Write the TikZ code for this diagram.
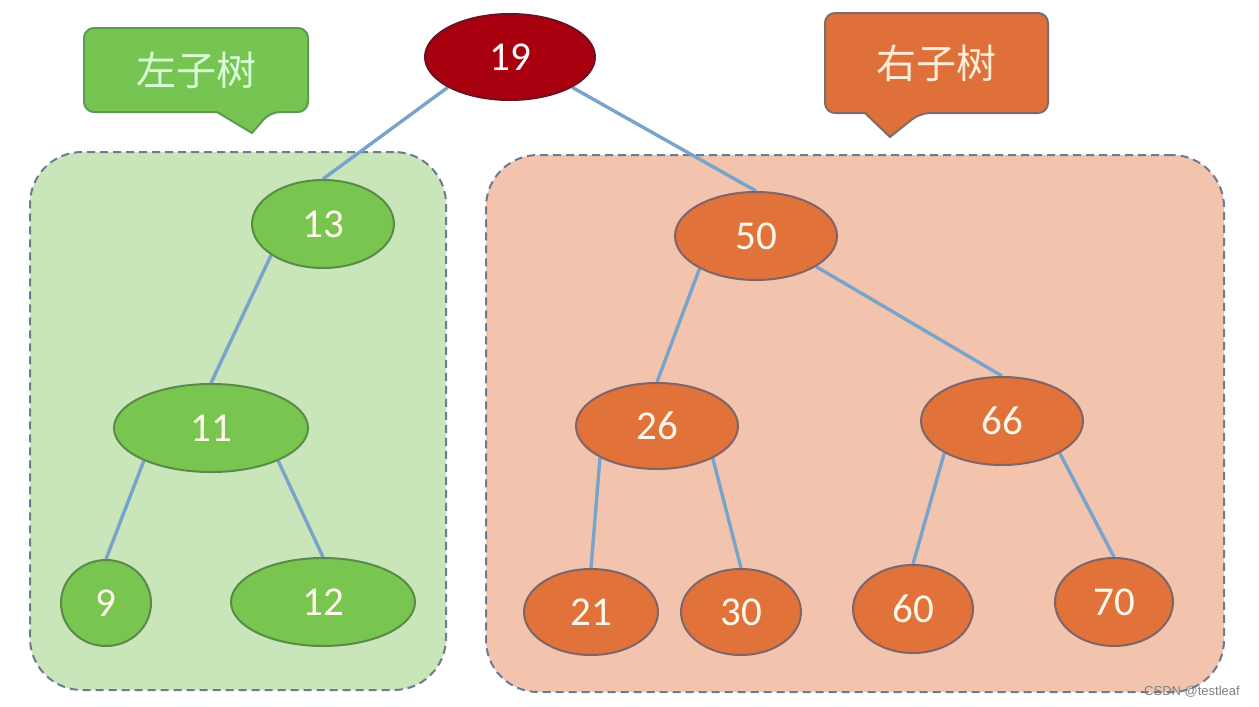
\documentclass[tikz,border=0pt]{standalone}
\usepackage{fontspec}
\setmainfont{Carlito}
\newfontfamily\cjkfont{Noto Sans CJK SC}
\newfontfamily\wmfont{Liberation Sans}
\usetikzlibrary{shapes.geometric}
\definecolor{edgeblue}{HTML}{78A4CC}
\definecolor{gfill}{HTML}{78C650}
\definecolor{gborder}{HTML}{5A8A48}
\definecolor{ofill}{HTML}{E0723A}
\definecolor{oborder}{HTML}{80646A}
\definecolor{rfill}{HTML}{A8000F}
\definecolor{rborder}{HTML}{6E1020}
\definecolor{lboxfill}{HTML}{C8E6B9}
\definecolor{rboxfill}{HTML}{F2C4AE}
\definecolor{dashcol}{HTML}{6C7B90}
\definecolor{callgfill}{HTML}{76C552}
\definecolor{callgborder}{HTML}{5C9A55}
\definecolor{callofill}{HTML}{E0703A}
\definecolor{calloborder}{HTML}{7E6C6A}
\definecolor{nodetext}{HTML}{FFF8EC}
\pgfdeclarelayer{boxes}
\pgfdeclarelayer{edges}
\pgfsetlayers{boxes,edges,main}
\tikzset{
  treenode/.style={ellipse, inner sep=0pt, line width=2pt, text=nodetext,
    font=\fontsize{41}{46}\selectfont},
  gnode/.style={treenode, fill=gfill, draw=gborder},
  onode/.style={treenode, fill=ofill, draw=oborder},
  rnode/.style={treenode, fill=rfill, draw=rborder, text=white!90!pink},
  subtree/.style={rectangle, rounded corners=52pt, dash pattern=on 8pt off 5pt,
    line width=2pt, draw=dashcol, inner sep=0pt},
  link/.style={draw=edgeblue, line width=3.4pt},
  calltext/.style={font=\cjkfont\fontsize{40}{46}\selectfont, inner sep=0pt},
}
\begin{document}
\begin{tikzpicture}[x=1pt,y=-1pt]
\useasboundingbox (0,0) rectangle (1259,707);
\begin{pgfonlayer}{boxes}
  \fill[white] (0,0) rectangle (1259,707);
  \node[subtree, fill=lboxfill, minimum width=416pt, minimum height=538pt] (lbox) at (238,421) {};
  \node[subtree, fill=rboxfill, minimum width=738pt, minimum height=537pt] (rbox) at (855,423.5) {};
  % callouts
  \draw[fill=callgfill, draw=callgborder, line width=2pt, rounded corners=10pt]
    (84,28) -- (308,28) -- (308,112) -- (270,112) [sharp corners] -- (252,133) -- (217,112)
    [rounded corners=10pt] -- (84,112) -- cycle;
  \draw[fill=callofill, draw=calloborder, line width=2pt, rounded corners=10pt]
    (825,13) -- (1048,13) -- (1048,113) -- (920,113) [sharp corners] -- (890,137) -- (865,113)
    [rounded corners=10pt] -- (825,113) -- cycle;
\end{pgfonlayer}
\node[calltext, text=white!85!green] (lcall) at (196,70) {左子树};
\node[calltext, text=white!85!orange] (rcall) at (936,63) {右子树};

\node[rnode, minimum width=170pt, minimum height=86pt] (n19) at (510,57) {19};
\node[gnode, minimum width=142pt, minimum height=88pt] (n13) at (323,224) {13};
\node[gnode, minimum width=194pt, minimum height=88pt] (n11) at (211,428) {11};
\node[gnode, minimum width=90pt, minimum height=86pt] (n9) at (106,603) {9};
\node[gnode, minimum width=184pt, minimum height=88pt] (n12) at (323,602) {12};
\node[onode, minimum width=162pt, minimum height=88pt] (n50) at (756,236) {50};
\node[onode, minimum width=162pt, minimum height=86pt] (n26) at (657,426) {26};
\node[onode, minimum width=162pt, minimum height=88pt] (n66) at (1002,421) {66};
\node[onode, minimum width=134pt, minimum height=86pt] (n21) at (591,612) {21};
\node[onode, minimum width=120pt, minimum height=86pt] (n30) at (741,612) {30};
\node[onode, minimum width=120pt, minimum height=88pt] (n60) at (913,609) {60};
\node[onode, minimum width=118pt, minimum height=88pt] (n70) at (1114,602) {70};

\begin{pgfonlayer}{edges}
  \draw[link] (n19.206) -- (n13.north);
  \draw[link] (n19.334) -- (n50.north);
  \draw[link] (n13.211) -- (n11.north);
  \draw[link] (n11.206) -- (n9.north);
  \draw[link] (n11.334) -- (n12.north);
  \draw[link] (n50.210) -- (n26.north);
  \draw[link] (n50.333) -- (n66.north);
  \draw[link] (n26.209) -- (n21.north);
  \draw[link] (n26.330) -- (n30.north);
  \draw[link] (n66.209) -- (n60.north);
  \draw[link] (n66.331) -- (n70.north);
\end{pgfonlayer}

\node[font=\wmfont\fontsize{13}{15}\selectfont, text=black!50, inner sep=0pt] (wm) at (1192,692) {CSDN @testleaf};
\end{tikzpicture}
\end{document}
